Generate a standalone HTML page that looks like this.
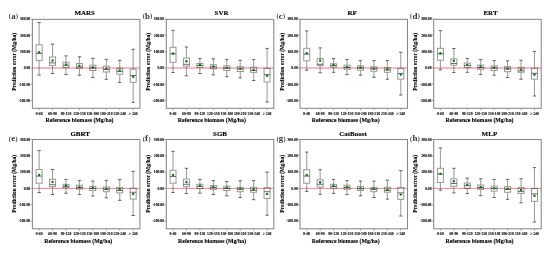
<!DOCTYPE html>
<html><head><meta charset="utf-8"><title>Prediction error box plots</title><style>
html,body{margin:0;padding:0;background:#fff;width:550px;height:256px;overflow:hidden}
svg{display:block}
text{font-family:"Liberation Serif","Times New Roman",serif}
.tk{font-size:3.75px;font-weight:bold;fill:#000;stroke:#000;stroke-width:0.08px}
.xl{font-size:5.85px;font-weight:bold;fill:#000;stroke:#000;stroke-width:0.1px}
.yl{font-size:5.45px;font-weight:bold;fill:#000;stroke:#000;stroke-width:0.1px}
.tt{font-size:7px;font-weight:bold;fill:#000;stroke:#000;stroke-width:0.12px}
.lt{font-size:8.9px;font-weight:bold;fill:#333}
.pp{font-size:6.1px}
.rl{mix-blend-mode:multiply}
</style></head><body>
<svg width="550" height="256" viewBox="0 0 550 256">
<rect width="550" height="256" fill="#fff"/>
<line x1="39.12" y1="22.6" x2="39.12" y2="44.8" stroke="#a0a0a0" stroke-width="1.1"/>
<line x1="39.12" y1="60.4" x2="39.12" y2="75" stroke="#a0a0a0" stroke-width="1.1"/>
<line x1="37.47" y1="22.6" x2="40.77" y2="22.6" stroke="#505050" stroke-width="0.9"/>
<line x1="37.47" y1="75" x2="40.77" y2="75" stroke="#505050" stroke-width="0.9"/>
<rect x="36.12" y="44.8" width="6" height="15.6" fill="#fff" stroke="#979797" stroke-width="1.0"/>
<line x1="36.12" y1="53.4" x2="42.12" y2="53.4" stroke="#4a4a4a" stroke-width="0.8"/>
<line x1="52.56" y1="44.1" x2="52.56" y2="57" stroke="#a0a0a0" stroke-width="1.1"/>
<line x1="52.56" y1="65.4" x2="52.56" y2="73.5" stroke="#a0a0a0" stroke-width="1.1"/>
<line x1="50.91" y1="44.1" x2="54.21" y2="44.1" stroke="#505050" stroke-width="0.9"/>
<line x1="50.91" y1="73.5" x2="54.21" y2="73.5" stroke="#505050" stroke-width="0.9"/>
<rect x="49.56" y="57" width="6" height="8.4" fill="#fff" stroke="#979797" stroke-width="1.0"/>
<line x1="49.56" y1="62.9" x2="55.56" y2="62.9" stroke="#4a4a4a" stroke-width="0.8"/>
<line x1="65.99" y1="55.9" x2="65.99" y2="62.3" stroke="#a0a0a0" stroke-width="1.1"/>
<line x1="65.99" y1="67.6" x2="65.99" y2="74.6" stroke="#a0a0a0" stroke-width="1.1"/>
<line x1="64.34" y1="55.9" x2="67.64" y2="55.9" stroke="#505050" stroke-width="0.9"/>
<line x1="64.34" y1="74.6" x2="67.64" y2="74.6" stroke="#505050" stroke-width="0.9"/>
<rect x="62.99" y="62.3" width="6" height="5.3" fill="#fff" stroke="#979797" stroke-width="1.0"/>
<line x1="62.99" y1="65.6" x2="68.99" y2="65.6" stroke="#4a4a4a" stroke-width="0.8"/>
<line x1="79.43" y1="56.8" x2="79.43" y2="63.5" stroke="#a0a0a0" stroke-width="1.1"/>
<line x1="79.43" y1="68.3" x2="79.43" y2="75.2" stroke="#a0a0a0" stroke-width="1.1"/>
<line x1="77.78" y1="56.8" x2="81.08" y2="56.8" stroke="#505050" stroke-width="0.9"/>
<line x1="77.78" y1="75.2" x2="81.08" y2="75.2" stroke="#505050" stroke-width="0.9"/>
<rect x="76.43" y="63.5" width="6" height="4.8" fill="#fff" stroke="#979797" stroke-width="1.0"/>
<line x1="76.43" y1="66.8" x2="82.43" y2="66.8" stroke="#4a4a4a" stroke-width="0.8"/>
<line x1="92.87" y1="58.4" x2="92.87" y2="65.2" stroke="#a0a0a0" stroke-width="1.1"/>
<line x1="92.87" y1="70.5" x2="92.87" y2="77.5" stroke="#a0a0a0" stroke-width="1.1"/>
<line x1="91.22" y1="58.4" x2="94.52" y2="58.4" stroke="#505050" stroke-width="0.9"/>
<line x1="91.22" y1="77.5" x2="94.52" y2="77.5" stroke="#505050" stroke-width="0.9"/>
<rect x="89.87" y="65.2" width="6" height="5.3" fill="#fff" stroke="#979797" stroke-width="1.0"/>
<line x1="89.87" y1="68" x2="95.87" y2="68" stroke="#4a4a4a" stroke-width="0.8"/>
<line x1="106.31" y1="59.4" x2="106.31" y2="66.2" stroke="#a0a0a0" stroke-width="1.1"/>
<line x1="106.31" y1="72" x2="106.31" y2="79.3" stroke="#a0a0a0" stroke-width="1.1"/>
<line x1="104.66" y1="59.4" x2="107.96" y2="59.4" stroke="#505050" stroke-width="0.9"/>
<line x1="104.66" y1="79.3" x2="107.96" y2="79.3" stroke="#505050" stroke-width="0.9"/>
<rect x="103.31" y="66.2" width="6" height="5.8" fill="#fff" stroke="#979797" stroke-width="1.0"/>
<line x1="103.31" y1="69.5" x2="109.31" y2="69.5" stroke="#4a4a4a" stroke-width="0.8"/>
<line x1="119.74" y1="60.3" x2="119.74" y2="68.4" stroke="#a0a0a0" stroke-width="1.1"/>
<line x1="119.74" y1="74.3" x2="119.74" y2="82.5" stroke="#a0a0a0" stroke-width="1.1"/>
<line x1="118.09" y1="60.3" x2="121.39" y2="60.3" stroke="#505050" stroke-width="0.9"/>
<line x1="118.09" y1="82.5" x2="121.39" y2="82.5" stroke="#505050" stroke-width="0.9"/>
<rect x="116.74" y="68.4" width="6" height="5.9" fill="#fff" stroke="#979797" stroke-width="1.0"/>
<line x1="116.74" y1="71.4" x2="122.74" y2="71.4" stroke="#4a4a4a" stroke-width="0.8"/>
<line x1="133.18" y1="49.3" x2="133.18" y2="69.2" stroke="#a0a0a0" stroke-width="1.1"/>
<line x1="133.18" y1="82.3" x2="133.18" y2="102.3" stroke="#a0a0a0" stroke-width="1.1"/>
<line x1="131.53" y1="49.3" x2="134.83" y2="49.3" stroke="#505050" stroke-width="0.9"/>
<line x1="131.53" y1="102.3" x2="134.83" y2="102.3" stroke="#505050" stroke-width="0.9"/>
<rect x="130.18" y="69.2" width="6" height="13.1" fill="#fff" stroke="#979797" stroke-width="1.0"/>
<line x1="130.18" y1="75.5" x2="136.18" y2="75.5" stroke="#4a4a4a" stroke-width="0.8"/>
<line x1="32.4" y1="67.95" x2="139.9" y2="67.95" stroke="#f2939f" stroke-width="1.35" stroke-dasharray="1.1 0.8" class="rl"/>
<line x1="32.4" y1="67.95" x2="139.9" y2="67.95" stroke="#f5aab4" stroke-width="1.35" stroke-dasharray="0.8 1.1" stroke-dashoffset="-1.1" class="rl"/>
<ellipse cx="39.12" cy="52.3" rx="1.2" ry="1.3" fill="#0a7a0e"/>
<ellipse cx="52.56" cy="60.5" rx="1.2" ry="1.3" fill="#0a7a0e"/>
<ellipse cx="65.99" cy="64.5" rx="1.2" ry="1.3" fill="#0a7a0e"/>
<ellipse cx="79.43" cy="65.8" rx="1.2" ry="1.3" fill="#0a7a0e"/>
<ellipse cx="92.87" cy="67.4" rx="1.2" ry="1.3" fill="#0a7a0e"/>
<ellipse cx="106.31" cy="68.8" rx="1.2" ry="1.3" fill="#0a7a0e"/>
<ellipse cx="119.74" cy="70.5" rx="1.2" ry="1.3" fill="#0a7a0e"/>
<ellipse cx="133.18" cy="76.7" rx="1.2" ry="1.3" fill="#0a7a0e"/>
<rect x="32.4" y="19.35" width="107.5" height="88.95" fill="none" stroke="#888888" stroke-width="1.05"/>
<line x1="30.6" y1="19.05" x2="32.4" y2="19.05" stroke="#888888" stroke-width="0.8"/>
<text x="30.2" y="20.4" text-anchor="end" class="tk">300.00</text>
<line x1="30.6" y1="35.35" x2="32.4" y2="35.35" stroke="#888888" stroke-width="0.8"/>
<text x="30.2" y="36.7" text-anchor="end" class="tk">200.00</text>
<line x1="30.6" y1="51.65" x2="32.4" y2="51.65" stroke="#888888" stroke-width="0.8"/>
<text x="30.2" y="53" text-anchor="end" class="tk">100.00</text>
<line x1="30.6" y1="67.95" x2="32.4" y2="67.95" stroke="#888888" stroke-width="0.8"/>
<text x="30.2" y="69.3" text-anchor="end" class="tk">0.00</text>
<line x1="30.6" y1="84.25" x2="32.4" y2="84.25" stroke="#888888" stroke-width="0.8"/>
<text x="30.2" y="85.6" text-anchor="end" class="tk">-100.00</text>
<line x1="30.6" y1="100.55" x2="32.4" y2="100.55" stroke="#888888" stroke-width="0.8"/>
<text x="30.2" y="101.9" text-anchor="end" class="tk">-200.00</text>
<line x1="39.12" y1="108.3" x2="39.12" y2="110.1" stroke="#888888" stroke-width="0.8"/>
<text x="39.12" y="114.8" text-anchor="middle" class="tk">0-60</text>
<line x1="52.56" y1="108.3" x2="52.56" y2="110.1" stroke="#888888" stroke-width="0.8"/>
<text x="52.56" y="114.8" text-anchor="middle" class="tk">60-90</text>
<line x1="65.99" y1="108.3" x2="65.99" y2="110.1" stroke="#888888" stroke-width="0.8"/>
<text x="65.99" y="114.8" text-anchor="middle" class="tk">90-120</text>
<line x1="79.43" y1="108.3" x2="79.43" y2="110.1" stroke="#888888" stroke-width="0.8"/>
<text x="79.43" y="114.8" text-anchor="middle" class="tk">120-150</text>
<line x1="92.87" y1="108.3" x2="92.87" y2="110.1" stroke="#888888" stroke-width="0.8"/>
<text x="92.87" y="114.8" text-anchor="middle" class="tk">150-180</text>
<line x1="106.31" y1="108.3" x2="106.31" y2="110.1" stroke="#888888" stroke-width="0.8"/>
<text x="106.31" y="114.8" text-anchor="middle" class="tk">180-210</text>
<line x1="119.74" y1="108.3" x2="119.74" y2="110.1" stroke="#888888" stroke-width="0.8"/>
<text x="119.74" y="114.8" text-anchor="middle" class="tk">210-240</text>
<line x1="133.18" y1="108.3" x2="133.18" y2="110.1" stroke="#888888" stroke-width="0.8"/>
<text x="133.18" y="114.8" text-anchor="middle" class="tk">&gt; 240</text>
<text x="79.5" y="122.2" text-anchor="middle" class="xl">Reference biomass (Mg/ha)</text>
<text transform="translate(16 61.85) rotate(-90)" text-anchor="middle" class="yl">Prediction error (Mg/ha)</text>
<text x="84.7" y="15.45" text-anchor="middle" class="tt">MARS</text>
<text x="8.8" y="18.55" class="lt"><tspan class="pp" dy="-0.6">(</tspan><tspan dy="0.6" dx="0.3">a</tspan><tspan class="pp" dy="-0.6" dx="0.4">)</tspan></text>
<line x1="173.02" y1="30.3" x2="173.02" y2="47.3" stroke="#a0a0a0" stroke-width="1.1"/>
<line x1="173.02" y1="62.4" x2="173.02" y2="72.5" stroke="#a0a0a0" stroke-width="1.1"/>
<line x1="171.37" y1="30.3" x2="174.67" y2="30.3" stroke="#505050" stroke-width="0.9"/>
<line x1="171.37" y1="72.5" x2="174.67" y2="72.5" stroke="#505050" stroke-width="0.9"/>
<rect x="170.02" y="47.3" width="6" height="15.1" fill="#fff" stroke="#979797" stroke-width="1.0"/>
<line x1="170.02" y1="53.8" x2="176.02" y2="53.8" stroke="#4a4a4a" stroke-width="0.8"/>
<line x1="186.46" y1="47" x2="186.46" y2="58.1" stroke="#a0a0a0" stroke-width="1.1"/>
<line x1="186.46" y1="66.1" x2="186.46" y2="75.8" stroke="#a0a0a0" stroke-width="1.1"/>
<line x1="184.81" y1="47" x2="188.11" y2="47" stroke="#505050" stroke-width="0.9"/>
<line x1="184.81" y1="75.8" x2="188.11" y2="75.8" stroke="#505050" stroke-width="0.9"/>
<rect x="183.46" y="58.1" width="6" height="8" fill="#fff" stroke="#979797" stroke-width="1.0"/>
<line x1="183.46" y1="64.3" x2="189.46" y2="64.3" stroke="#4a4a4a" stroke-width="0.8"/>
<line x1="199.89" y1="58.5" x2="199.89" y2="63.5" stroke="#a0a0a0" stroke-width="1.1"/>
<line x1="199.89" y1="67.3" x2="199.89" y2="73.5" stroke="#a0a0a0" stroke-width="1.1"/>
<line x1="198.24" y1="58.5" x2="201.54" y2="58.5" stroke="#505050" stroke-width="0.9"/>
<line x1="198.24" y1="73.5" x2="201.54" y2="73.5" stroke="#505050" stroke-width="0.9"/>
<rect x="196.89" y="63.5" width="6" height="3.8" fill="#fff" stroke="#979797" stroke-width="1.0"/>
<line x1="196.89" y1="65.5" x2="202.89" y2="65.5" stroke="#4a4a4a" stroke-width="0.8"/>
<line x1="213.33" y1="58.8" x2="213.33" y2="64.7" stroke="#a0a0a0" stroke-width="1.1"/>
<line x1="213.33" y1="68.8" x2="213.33" y2="74.9" stroke="#a0a0a0" stroke-width="1.1"/>
<line x1="211.68" y1="58.8" x2="214.98" y2="58.8" stroke="#505050" stroke-width="0.9"/>
<line x1="211.68" y1="74.9" x2="214.98" y2="74.9" stroke="#505050" stroke-width="0.9"/>
<rect x="210.33" y="64.7" width="6" height="4.1" fill="#fff" stroke="#979797" stroke-width="1.0"/>
<line x1="210.33" y1="66.9" x2="216.33" y2="66.9" stroke="#4a4a4a" stroke-width="0.8"/>
<line x1="226.77" y1="59.4" x2="226.77" y2="65.8" stroke="#a0a0a0" stroke-width="1.1"/>
<line x1="226.77" y1="70.5" x2="226.77" y2="76.7" stroke="#a0a0a0" stroke-width="1.1"/>
<line x1="225.12" y1="59.4" x2="228.42" y2="59.4" stroke="#505050" stroke-width="0.9"/>
<line x1="225.12" y1="76.7" x2="228.42" y2="76.7" stroke="#505050" stroke-width="0.9"/>
<rect x="223.77" y="65.8" width="6" height="4.7" fill="#fff" stroke="#979797" stroke-width="1.0"/>
<line x1="223.77" y1="68" x2="229.77" y2="68" stroke="#4a4a4a" stroke-width="0.8"/>
<line x1="240.21" y1="60.3" x2="240.21" y2="66.6" stroke="#a0a0a0" stroke-width="1.1"/>
<line x1="240.21" y1="71.5" x2="240.21" y2="77.9" stroke="#a0a0a0" stroke-width="1.1"/>
<line x1="238.56" y1="60.3" x2="241.86" y2="60.3" stroke="#505050" stroke-width="0.9"/>
<line x1="238.56" y1="77.9" x2="241.86" y2="77.9" stroke="#505050" stroke-width="0.9"/>
<rect x="237.21" y="66.6" width="6" height="4.9" fill="#fff" stroke="#979797" stroke-width="1.0"/>
<line x1="237.21" y1="69" x2="243.21" y2="69" stroke="#4a4a4a" stroke-width="0.8"/>
<line x1="253.64" y1="59.6" x2="253.64" y2="67.3" stroke="#a0a0a0" stroke-width="1.1"/>
<line x1="253.64" y1="72.4" x2="253.64" y2="80.5" stroke="#a0a0a0" stroke-width="1.1"/>
<line x1="251.99" y1="59.6" x2="255.29" y2="59.6" stroke="#505050" stroke-width="0.9"/>
<line x1="251.99" y1="80.5" x2="255.29" y2="80.5" stroke="#505050" stroke-width="0.9"/>
<rect x="250.64" y="67.3" width="6" height="5.1" fill="#fff" stroke="#979797" stroke-width="1.0"/>
<line x1="250.64" y1="70.5" x2="256.64" y2="70.5" stroke="#4a4a4a" stroke-width="0.8"/>
<line x1="267.08" y1="48.4" x2="267.08" y2="68.4" stroke="#a0a0a0" stroke-width="1.1"/>
<line x1="267.08" y1="82" x2="267.08" y2="102" stroke="#a0a0a0" stroke-width="1.1"/>
<line x1="265.43" y1="48.4" x2="268.73" y2="48.4" stroke="#505050" stroke-width="0.9"/>
<line x1="265.43" y1="102" x2="268.73" y2="102" stroke="#505050" stroke-width="0.9"/>
<rect x="264.08" y="68.4" width="6" height="13.6" fill="#fff" stroke="#979797" stroke-width="1.0"/>
<line x1="264.08" y1="74.7" x2="270.08" y2="74.7" stroke="#4a4a4a" stroke-width="0.8"/>
<line x1="166.3" y1="67.95" x2="273.8" y2="67.95" stroke="#f2939f" stroke-width="1.35" stroke-dasharray="1.1 0.8" class="rl"/>
<line x1="166.3" y1="67.95" x2="273.8" y2="67.95" stroke="#f5aab4" stroke-width="1.35" stroke-dasharray="0.8 1.1" stroke-dashoffset="-1.1" class="rl"/>
<ellipse cx="173.02" cy="53.6" rx="1.2" ry="1.3" fill="#0a7a0e"/>
<ellipse cx="186.46" cy="61.2" rx="1.2" ry="1.3" fill="#0a7a0e"/>
<ellipse cx="199.89" cy="64.9" rx="1.2" ry="1.3" fill="#0a7a0e"/>
<ellipse cx="213.33" cy="66.5" rx="1.2" ry="1.3" fill="#0a7a0e"/>
<ellipse cx="226.77" cy="67.8" rx="1.2" ry="1.3" fill="#0a7a0e"/>
<ellipse cx="240.21" cy="68.8" rx="1.2" ry="1.3" fill="#0a7a0e"/>
<ellipse cx="253.64" cy="70" rx="1.2" ry="1.3" fill="#0a7a0e"/>
<ellipse cx="267.08" cy="75.8" rx="1.2" ry="1.3" fill="#0a7a0e"/>
<rect x="166.3" y="19.35" width="107.5" height="88.95" fill="none" stroke="#888888" stroke-width="1.05"/>
<line x1="164.5" y1="19.05" x2="166.3" y2="19.05" stroke="#888888" stroke-width="0.8"/>
<text x="164.1" y="20.4" text-anchor="end" class="tk">300.00</text>
<line x1="164.5" y1="35.35" x2="166.3" y2="35.35" stroke="#888888" stroke-width="0.8"/>
<text x="164.1" y="36.7" text-anchor="end" class="tk">200.00</text>
<line x1="164.5" y1="51.65" x2="166.3" y2="51.65" stroke="#888888" stroke-width="0.8"/>
<text x="164.1" y="53" text-anchor="end" class="tk">100.00</text>
<line x1="164.5" y1="67.95" x2="166.3" y2="67.95" stroke="#888888" stroke-width="0.8"/>
<text x="164.1" y="69.3" text-anchor="end" class="tk">0.00</text>
<line x1="164.5" y1="84.25" x2="166.3" y2="84.25" stroke="#888888" stroke-width="0.8"/>
<text x="164.1" y="85.6" text-anchor="end" class="tk">-100.00</text>
<line x1="164.5" y1="100.55" x2="166.3" y2="100.55" stroke="#888888" stroke-width="0.8"/>
<text x="164.1" y="101.9" text-anchor="end" class="tk">-200.00</text>
<line x1="173.02" y1="108.3" x2="173.02" y2="110.1" stroke="#888888" stroke-width="0.8"/>
<text x="173.02" y="114.8" text-anchor="middle" class="tk">0-60</text>
<line x1="186.46" y1="108.3" x2="186.46" y2="110.1" stroke="#888888" stroke-width="0.8"/>
<text x="186.46" y="114.8" text-anchor="middle" class="tk">60-90</text>
<line x1="199.89" y1="108.3" x2="199.89" y2="110.1" stroke="#888888" stroke-width="0.8"/>
<text x="199.89" y="114.8" text-anchor="middle" class="tk">90-120</text>
<line x1="213.33" y1="108.3" x2="213.33" y2="110.1" stroke="#888888" stroke-width="0.8"/>
<text x="213.33" y="114.8" text-anchor="middle" class="tk">120-150</text>
<line x1="226.77" y1="108.3" x2="226.77" y2="110.1" stroke="#888888" stroke-width="0.8"/>
<text x="226.77" y="114.8" text-anchor="middle" class="tk">150-180</text>
<line x1="240.21" y1="108.3" x2="240.21" y2="110.1" stroke="#888888" stroke-width="0.8"/>
<text x="240.21" y="114.8" text-anchor="middle" class="tk">180-210</text>
<line x1="253.64" y1="108.3" x2="253.64" y2="110.1" stroke="#888888" stroke-width="0.8"/>
<text x="253.64" y="114.8" text-anchor="middle" class="tk">210-240</text>
<line x1="267.08" y1="108.3" x2="267.08" y2="110.1" stroke="#888888" stroke-width="0.8"/>
<text x="267.08" y="114.8" text-anchor="middle" class="tk">&gt; 240</text>
<text x="211.9" y="122.2" text-anchor="middle" class="xl">Reference biomass (Mg/ha)</text>
<text transform="translate(149.9 61.85) rotate(-90)" text-anchor="middle" class="yl">Prediction error (Mg/ha)</text>
<text x="221.5" y="15.45" text-anchor="middle" class="tt">SVR</text>
<text x="142.7" y="18.55" class="lt"><tspan class="pp" dy="-0.6">(</tspan><tspan dy="0.6" dx="0.3">b</tspan><tspan class="pp" dy="-0.6" dx="0.4">)</tspan></text>
<line x1="306.72" y1="30.9" x2="306.72" y2="48.3" stroke="#a0a0a0" stroke-width="1.1"/>
<line x1="306.72" y1="60.8" x2="306.72" y2="70.2" stroke="#a0a0a0" stroke-width="1.1"/>
<line x1="305.07" y1="30.9" x2="308.37" y2="30.9" stroke="#505050" stroke-width="0.9"/>
<line x1="305.07" y1="70.2" x2="308.37" y2="70.2" stroke="#505050" stroke-width="0.9"/>
<rect x="303.72" y="48.3" width="6" height="12.5" fill="#fff" stroke="#979797" stroke-width="1.0"/>
<line x1="303.72" y1="54.1" x2="309.72" y2="54.1" stroke="#4a4a4a" stroke-width="0.8"/>
<line x1="320.16" y1="47.9" x2="320.16" y2="58.5" stroke="#a0a0a0" stroke-width="1.1"/>
<line x1="320.16" y1="65.5" x2="320.16" y2="72.8" stroke="#a0a0a0" stroke-width="1.1"/>
<line x1="318.51" y1="47.9" x2="321.81" y2="47.9" stroke="#505050" stroke-width="0.9"/>
<line x1="318.51" y1="72.8" x2="321.81" y2="72.8" stroke="#505050" stroke-width="0.9"/>
<rect x="317.16" y="58.5" width="6" height="7" fill="#fff" stroke="#979797" stroke-width="1.0"/>
<line x1="317.16" y1="64.3" x2="323.16" y2="64.3" stroke="#4a4a4a" stroke-width="0.8"/>
<line x1="333.59" y1="58.6" x2="333.59" y2="63.8" stroke="#a0a0a0" stroke-width="1.1"/>
<line x1="333.59" y1="67" x2="333.59" y2="72.3" stroke="#a0a0a0" stroke-width="1.1"/>
<line x1="331.94" y1="58.6" x2="335.24" y2="58.6" stroke="#505050" stroke-width="0.9"/>
<line x1="331.94" y1="72.3" x2="335.24" y2="72.3" stroke="#505050" stroke-width="0.9"/>
<rect x="330.59" y="63.8" width="6" height="3.2" fill="#fff" stroke="#979797" stroke-width="1.0"/>
<line x1="330.59" y1="65.5" x2="336.59" y2="65.5" stroke="#4a4a4a" stroke-width="0.8"/>
<line x1="347.03" y1="59.6" x2="347.03" y2="65.2" stroke="#a0a0a0" stroke-width="1.1"/>
<line x1="347.03" y1="69.3" x2="347.03" y2="74.6" stroke="#a0a0a0" stroke-width="1.1"/>
<line x1="345.38" y1="59.6" x2="348.68" y2="59.6" stroke="#505050" stroke-width="0.9"/>
<line x1="345.38" y1="74.6" x2="348.68" y2="74.6" stroke="#505050" stroke-width="0.9"/>
<rect x="344.03" y="65.2" width="6" height="4.1" fill="#fff" stroke="#979797" stroke-width="1.0"/>
<line x1="344.03" y1="67.5" x2="350.03" y2="67.5" stroke="#4a4a4a" stroke-width="0.8"/>
<line x1="360.47" y1="60.6" x2="360.47" y2="65.8" stroke="#a0a0a0" stroke-width="1.1"/>
<line x1="360.47" y1="70.2" x2="360.47" y2="75.2" stroke="#a0a0a0" stroke-width="1.1"/>
<line x1="358.82" y1="60.6" x2="362.12" y2="60.6" stroke="#505050" stroke-width="0.9"/>
<line x1="358.82" y1="75.2" x2="362.12" y2="75.2" stroke="#505050" stroke-width="0.9"/>
<rect x="357.47" y="65.8" width="6" height="4.4" fill="#fff" stroke="#979797" stroke-width="1.0"/>
<line x1="357.47" y1="68" x2="363.47" y2="68" stroke="#4a4a4a" stroke-width="0.8"/>
<line x1="373.91" y1="60.6" x2="373.91" y2="66.8" stroke="#a0a0a0" stroke-width="1.1"/>
<line x1="373.91" y1="71.3" x2="373.91" y2="77.3" stroke="#a0a0a0" stroke-width="1.1"/>
<line x1="372.26" y1="60.6" x2="375.56" y2="60.6" stroke="#505050" stroke-width="0.9"/>
<line x1="372.26" y1="77.3" x2="375.56" y2="77.3" stroke="#505050" stroke-width="0.9"/>
<rect x="370.91" y="66.8" width="6" height="4.5" fill="#fff" stroke="#979797" stroke-width="1.0"/>
<line x1="370.91" y1="69" x2="376.91" y2="69" stroke="#4a4a4a" stroke-width="0.8"/>
<line x1="387.34" y1="60.6" x2="387.34" y2="67.6" stroke="#a0a0a0" stroke-width="1.1"/>
<line x1="387.34" y1="72.3" x2="387.34" y2="79.2" stroke="#a0a0a0" stroke-width="1.1"/>
<line x1="385.69" y1="60.6" x2="388.99" y2="60.6" stroke="#505050" stroke-width="0.9"/>
<line x1="385.69" y1="79.2" x2="388.99" y2="79.2" stroke="#505050" stroke-width="0.9"/>
<rect x="384.34" y="67.6" width="6" height="4.7" fill="#fff" stroke="#979797" stroke-width="1.0"/>
<line x1="384.34" y1="70" x2="390.34" y2="70" stroke="#4a4a4a" stroke-width="0.8"/>
<line x1="400.78" y1="52.3" x2="400.78" y2="68.4" stroke="#a0a0a0" stroke-width="1.1"/>
<line x1="400.78" y1="79.2" x2="400.78" y2="95" stroke="#a0a0a0" stroke-width="1.1"/>
<line x1="399.13" y1="52.3" x2="402.43" y2="52.3" stroke="#505050" stroke-width="0.9"/>
<line x1="399.13" y1="95" x2="402.43" y2="95" stroke="#505050" stroke-width="0.9"/>
<rect x="397.78" y="68.4" width="6" height="10.8" fill="#fff" stroke="#979797" stroke-width="1.0"/>
<line x1="397.78" y1="73.4" x2="403.78" y2="73.4" stroke="#4a4a4a" stroke-width="0.8"/>
<line x1="300" y1="67.95" x2="407.5" y2="67.95" stroke="#f2939f" stroke-width="1.35" stroke-dasharray="1.1 0.8" class="rl"/>
<line x1="300" y1="67.95" x2="407.5" y2="67.95" stroke="#f5aab4" stroke-width="1.35" stroke-dasharray="0.8 1.1" stroke-dashoffset="-1.1" class="rl"/>
<ellipse cx="306.72" cy="53.2" rx="1.2" ry="1.3" fill="#0a7a0e"/>
<ellipse cx="320.16" cy="60.6" rx="1.2" ry="1.3" fill="#0a7a0e"/>
<ellipse cx="333.59" cy="65" rx="1.2" ry="1.3" fill="#0a7a0e"/>
<ellipse cx="347.03" cy="67" rx="1.2" ry="1.3" fill="#0a7a0e"/>
<ellipse cx="360.47" cy="67.6" rx="1.2" ry="1.3" fill="#0a7a0e"/>
<ellipse cx="373.91" cy="68.5" rx="1.2" ry="1.3" fill="#0a7a0e"/>
<ellipse cx="387.34" cy="69.3" rx="1.2" ry="1.3" fill="#0a7a0e"/>
<ellipse cx="400.78" cy="74.6" rx="1.2" ry="1.3" fill="#0a7a0e"/>
<rect x="300" y="19.35" width="107.5" height="88.95" fill="none" stroke="#888888" stroke-width="1.05"/>
<line x1="298.2" y1="19.05" x2="300" y2="19.05" stroke="#888888" stroke-width="0.8"/>
<text x="297.8" y="20.4" text-anchor="end" class="tk">300.00</text>
<line x1="298.2" y1="35.35" x2="300" y2="35.35" stroke="#888888" stroke-width="0.8"/>
<text x="297.8" y="36.7" text-anchor="end" class="tk">200.00</text>
<line x1="298.2" y1="51.65" x2="300" y2="51.65" stroke="#888888" stroke-width="0.8"/>
<text x="297.8" y="53" text-anchor="end" class="tk">100.00</text>
<line x1="298.2" y1="67.95" x2="300" y2="67.95" stroke="#888888" stroke-width="0.8"/>
<text x="297.8" y="69.3" text-anchor="end" class="tk">0.00</text>
<line x1="298.2" y1="84.25" x2="300" y2="84.25" stroke="#888888" stroke-width="0.8"/>
<text x="297.8" y="85.6" text-anchor="end" class="tk">-100.00</text>
<line x1="298.2" y1="100.55" x2="300" y2="100.55" stroke="#888888" stroke-width="0.8"/>
<text x="297.8" y="101.9" text-anchor="end" class="tk">-200.00</text>
<line x1="306.72" y1="108.3" x2="306.72" y2="110.1" stroke="#888888" stroke-width="0.8"/>
<text x="306.72" y="114.8" text-anchor="middle" class="tk">0-60</text>
<line x1="320.16" y1="108.3" x2="320.16" y2="110.1" stroke="#888888" stroke-width="0.8"/>
<text x="320.16" y="114.8" text-anchor="middle" class="tk">60-90</text>
<line x1="333.59" y1="108.3" x2="333.59" y2="110.1" stroke="#888888" stroke-width="0.8"/>
<text x="333.59" y="114.8" text-anchor="middle" class="tk">90-120</text>
<line x1="347.03" y1="108.3" x2="347.03" y2="110.1" stroke="#888888" stroke-width="0.8"/>
<text x="347.03" y="114.8" text-anchor="middle" class="tk">120-150</text>
<line x1="360.47" y1="108.3" x2="360.47" y2="110.1" stroke="#888888" stroke-width="0.8"/>
<text x="360.47" y="114.8" text-anchor="middle" class="tk">150-180</text>
<line x1="373.91" y1="108.3" x2="373.91" y2="110.1" stroke="#888888" stroke-width="0.8"/>
<text x="373.91" y="114.8" text-anchor="middle" class="tk">180-210</text>
<line x1="387.34" y1="108.3" x2="387.34" y2="110.1" stroke="#888888" stroke-width="0.8"/>
<text x="387.34" y="114.8" text-anchor="middle" class="tk">210-240</text>
<line x1="400.78" y1="108.3" x2="400.78" y2="110.1" stroke="#888888" stroke-width="0.8"/>
<text x="400.78" y="114.8" text-anchor="middle" class="tk">&gt; 240</text>
<text x="345.7" y="122.2" text-anchor="middle" class="xl">Reference biomass (Mg/ha)</text>
<text transform="translate(283.6 61.85) rotate(-90)" text-anchor="middle" class="yl">Prediction error (Mg/ha)</text>
<text x="352.2" y="15.45" text-anchor="middle" class="tt">RF</text>
<text x="276.4" y="18.55" class="lt"><tspan class="pp" dy="-0.6">(</tspan><tspan dy="0.6" dx="0.3">c</tspan><tspan class="pp" dy="-0.6" dx="0.4">)</tspan></text>
<line x1="440.42" y1="30.6" x2="440.42" y2="48.3" stroke="#a0a0a0" stroke-width="1.1"/>
<line x1="440.42" y1="60.2" x2="440.42" y2="69.9" stroke="#a0a0a0" stroke-width="1.1"/>
<line x1="438.77" y1="30.6" x2="442.07" y2="30.6" stroke="#505050" stroke-width="0.9"/>
<line x1="438.77" y1="69.9" x2="442.07" y2="69.9" stroke="#505050" stroke-width="0.9"/>
<rect x="437.42" y="48.3" width="6" height="11.9" fill="#fff" stroke="#979797" stroke-width="1.0"/>
<line x1="437.42" y1="53.8" x2="443.42" y2="53.8" stroke="#4a4a4a" stroke-width="0.8"/>
<line x1="453.86" y1="48.5" x2="453.86" y2="58.8" stroke="#a0a0a0" stroke-width="1.1"/>
<line x1="453.86" y1="65.2" x2="453.86" y2="72.5" stroke="#a0a0a0" stroke-width="1.1"/>
<line x1="452.21" y1="48.5" x2="455.51" y2="48.5" stroke="#505050" stroke-width="0.9"/>
<line x1="452.21" y1="72.5" x2="455.51" y2="72.5" stroke="#505050" stroke-width="0.9"/>
<rect x="450.86" y="58.8" width="6" height="6.4" fill="#fff" stroke="#979797" stroke-width="1.0"/>
<line x1="450.86" y1="63.5" x2="456.86" y2="63.5" stroke="#4a4a4a" stroke-width="0.8"/>
<line x1="467.29" y1="58.6" x2="467.29" y2="63.1" stroke="#a0a0a0" stroke-width="1.1"/>
<line x1="467.29" y1="67.4" x2="467.29" y2="72.3" stroke="#a0a0a0" stroke-width="1.1"/>
<line x1="465.64" y1="58.6" x2="468.94" y2="58.6" stroke="#505050" stroke-width="0.9"/>
<line x1="465.64" y1="72.3" x2="468.94" y2="72.3" stroke="#505050" stroke-width="0.9"/>
<rect x="464.29" y="63.1" width="6" height="4.3" fill="#fff" stroke="#979797" stroke-width="1.0"/>
<line x1="464.29" y1="65.5" x2="470.29" y2="65.5" stroke="#4a4a4a" stroke-width="0.8"/>
<line x1="480.73" y1="59.6" x2="480.73" y2="65" stroke="#a0a0a0" stroke-width="1.1"/>
<line x1="480.73" y1="69.3" x2="480.73" y2="74.6" stroke="#a0a0a0" stroke-width="1.1"/>
<line x1="479.08" y1="59.6" x2="482.38" y2="59.6" stroke="#505050" stroke-width="0.9"/>
<line x1="479.08" y1="74.6" x2="482.38" y2="74.6" stroke="#505050" stroke-width="0.9"/>
<rect x="477.73" y="65" width="6" height="4.3" fill="#fff" stroke="#979797" stroke-width="1.0"/>
<line x1="477.73" y1="67.5" x2="483.73" y2="67.5" stroke="#4a4a4a" stroke-width="0.8"/>
<line x1="494.17" y1="60.6" x2="494.17" y2="65.8" stroke="#a0a0a0" stroke-width="1.1"/>
<line x1="494.17" y1="70.5" x2="494.17" y2="75.2" stroke="#a0a0a0" stroke-width="1.1"/>
<line x1="492.52" y1="60.6" x2="495.82" y2="60.6" stroke="#505050" stroke-width="0.9"/>
<line x1="492.52" y1="75.2" x2="495.82" y2="75.2" stroke="#505050" stroke-width="0.9"/>
<rect x="491.17" y="65.8" width="6" height="4.7" fill="#fff" stroke="#979797" stroke-width="1.0"/>
<line x1="491.17" y1="68" x2="497.17" y2="68" stroke="#4a4a4a" stroke-width="0.8"/>
<line x1="507.61" y1="60.8" x2="507.61" y2="66.6" stroke="#a0a0a0" stroke-width="1.1"/>
<line x1="507.61" y1="71.7" x2="507.61" y2="77.5" stroke="#a0a0a0" stroke-width="1.1"/>
<line x1="505.96" y1="60.8" x2="509.26" y2="60.8" stroke="#505050" stroke-width="0.9"/>
<line x1="505.96" y1="77.5" x2="509.26" y2="77.5" stroke="#505050" stroke-width="0.9"/>
<rect x="504.61" y="66.6" width="6" height="5.1" fill="#fff" stroke="#979797" stroke-width="1.0"/>
<line x1="504.61" y1="69" x2="510.61" y2="69" stroke="#4a4a4a" stroke-width="0.8"/>
<line x1="521.04" y1="60.3" x2="521.04" y2="67.3" stroke="#a0a0a0" stroke-width="1.1"/>
<line x1="521.04" y1="72.3" x2="521.04" y2="79.2" stroke="#a0a0a0" stroke-width="1.1"/>
<line x1="519.39" y1="60.3" x2="522.69" y2="60.3" stroke="#505050" stroke-width="0.9"/>
<line x1="519.39" y1="79.2" x2="522.69" y2="79.2" stroke="#505050" stroke-width="0.9"/>
<rect x="518.04" y="67.3" width="6" height="5" fill="#fff" stroke="#979797" stroke-width="1.0"/>
<line x1="518.04" y1="70.9" x2="524.04" y2="70.9" stroke="#4a4a4a" stroke-width="0.8"/>
<line x1="534.48" y1="51.4" x2="534.48" y2="68.2" stroke="#a0a0a0" stroke-width="1.1"/>
<line x1="534.48" y1="79.1" x2="534.48" y2="96" stroke="#a0a0a0" stroke-width="1.1"/>
<line x1="532.83" y1="51.4" x2="536.13" y2="51.4" stroke="#505050" stroke-width="0.9"/>
<line x1="532.83" y1="96" x2="536.13" y2="96" stroke="#505050" stroke-width="0.9"/>
<rect x="531.48" y="68.2" width="6" height="10.9" fill="#fff" stroke="#979797" stroke-width="1.0"/>
<line x1="531.48" y1="73.3" x2="537.48" y2="73.3" stroke="#4a4a4a" stroke-width="0.8"/>
<line x1="433.7" y1="67.95" x2="541.2" y2="67.95" stroke="#f2939f" stroke-width="1.35" stroke-dasharray="1.1 0.8" class="rl"/>
<line x1="433.7" y1="67.95" x2="541.2" y2="67.95" stroke="#f5aab4" stroke-width="1.35" stroke-dasharray="0.8 1.1" stroke-dashoffset="-1.1" class="rl"/>
<ellipse cx="440.42" cy="53.4" rx="1.2" ry="1.3" fill="#0a7a0e"/>
<ellipse cx="453.86" cy="60.8" rx="1.2" ry="1.3" fill="#0a7a0e"/>
<ellipse cx="467.29" cy="65" rx="1.2" ry="1.3" fill="#0a7a0e"/>
<ellipse cx="480.73" cy="66.6" rx="1.2" ry="1.3" fill="#0a7a0e"/>
<ellipse cx="494.17" cy="67.6" rx="1.2" ry="1.3" fill="#0a7a0e"/>
<ellipse cx="507.61" cy="68.5" rx="1.2" ry="1.3" fill="#0a7a0e"/>
<ellipse cx="521.04" cy="69.6" rx="1.2" ry="1.3" fill="#0a7a0e"/>
<ellipse cx="534.48" cy="74.6" rx="1.2" ry="1.3" fill="#0a7a0e"/>
<rect x="433.7" y="19.35" width="107.5" height="88.95" fill="none" stroke="#888888" stroke-width="1.05"/>
<line x1="431.9" y1="19.05" x2="433.7" y2="19.05" stroke="#888888" stroke-width="0.8"/>
<text x="431.5" y="20.4" text-anchor="end" class="tk">300.00</text>
<line x1="431.9" y1="35.35" x2="433.7" y2="35.35" stroke="#888888" stroke-width="0.8"/>
<text x="431.5" y="36.7" text-anchor="end" class="tk">200.00</text>
<line x1="431.9" y1="51.65" x2="433.7" y2="51.65" stroke="#888888" stroke-width="0.8"/>
<text x="431.5" y="53" text-anchor="end" class="tk">100.00</text>
<line x1="431.9" y1="67.95" x2="433.7" y2="67.95" stroke="#888888" stroke-width="0.8"/>
<text x="431.5" y="69.3" text-anchor="end" class="tk">0.00</text>
<line x1="431.9" y1="84.25" x2="433.7" y2="84.25" stroke="#888888" stroke-width="0.8"/>
<text x="431.5" y="85.6" text-anchor="end" class="tk">-100.00</text>
<line x1="431.9" y1="100.55" x2="433.7" y2="100.55" stroke="#888888" stroke-width="0.8"/>
<text x="431.5" y="101.9" text-anchor="end" class="tk">-200.00</text>
<line x1="440.42" y1="108.3" x2="440.42" y2="110.1" stroke="#888888" stroke-width="0.8"/>
<text x="440.42" y="114.8" text-anchor="middle" class="tk">0-60</text>
<line x1="453.86" y1="108.3" x2="453.86" y2="110.1" stroke="#888888" stroke-width="0.8"/>
<text x="453.86" y="114.8" text-anchor="middle" class="tk">60-90</text>
<line x1="467.29" y1="108.3" x2="467.29" y2="110.1" stroke="#888888" stroke-width="0.8"/>
<text x="467.29" y="114.8" text-anchor="middle" class="tk">90-120</text>
<line x1="480.73" y1="108.3" x2="480.73" y2="110.1" stroke="#888888" stroke-width="0.8"/>
<text x="480.73" y="114.8" text-anchor="middle" class="tk">120-150</text>
<line x1="494.17" y1="108.3" x2="494.17" y2="110.1" stroke="#888888" stroke-width="0.8"/>
<text x="494.17" y="114.8" text-anchor="middle" class="tk">150-180</text>
<line x1="507.61" y1="108.3" x2="507.61" y2="110.1" stroke="#888888" stroke-width="0.8"/>
<text x="507.61" y="114.8" text-anchor="middle" class="tk">180-210</text>
<line x1="521.04" y1="108.3" x2="521.04" y2="110.1" stroke="#888888" stroke-width="0.8"/>
<text x="521.04" y="114.8" text-anchor="middle" class="tk">210-240</text>
<line x1="534.48" y1="108.3" x2="534.48" y2="110.1" stroke="#888888" stroke-width="0.8"/>
<text x="534.48" y="114.8" text-anchor="middle" class="tk">&gt; 240</text>
<text x="479.5" y="122.2" text-anchor="middle" class="xl">Reference biomass (Mg/ha)</text>
<text transform="translate(417.3 61.85) rotate(-90)" text-anchor="middle" class="yl">Prediction error (Mg/ha)</text>
<text x="490.5" y="15.45" text-anchor="middle" class="tt">ERT</text>
<text x="410.1" y="18.55" class="lt"><tspan class="pp" dy="-0.6">(</tspan><tspan dy="0.6" dx="0.3">d</tspan><tspan class="pp" dy="-0.6" dx="0.4">)</tspan></text>
<line x1="39.12" y1="150.6" x2="39.12" y2="169.5" stroke="#a0a0a0" stroke-width="1.1"/>
<line x1="39.12" y1="183.2" x2="39.12" y2="192.5" stroke="#a0a0a0" stroke-width="1.1"/>
<line x1="37.47" y1="150.6" x2="40.77" y2="150.6" stroke="#505050" stroke-width="0.9"/>
<line x1="37.47" y1="192.5" x2="40.77" y2="192.5" stroke="#505050" stroke-width="0.9"/>
<rect x="36.12" y="169.5" width="6" height="13.7" fill="#fff" stroke="#979797" stroke-width="1.0"/>
<line x1="36.12" y1="176.1" x2="42.12" y2="176.1" stroke="#4a4a4a" stroke-width="0.8"/>
<line x1="52.56" y1="169.5" x2="52.56" y2="179.3" stroke="#a0a0a0" stroke-width="1.1"/>
<line x1="52.56" y1="186.7" x2="52.56" y2="194.5" stroke="#a0a0a0" stroke-width="1.1"/>
<line x1="50.91" y1="169.5" x2="54.21" y2="169.5" stroke="#505050" stroke-width="0.9"/>
<line x1="50.91" y1="194.5" x2="54.21" y2="194.5" stroke="#505050" stroke-width="0.9"/>
<rect x="49.56" y="179.3" width="6" height="7.4" fill="#fff" stroke="#979797" stroke-width="1.0"/>
<line x1="49.56" y1="184.7" x2="55.56" y2="184.7" stroke="#4a4a4a" stroke-width="0.8"/>
<line x1="65.99" y1="179.4" x2="65.99" y2="184.3" stroke="#a0a0a0" stroke-width="1.1"/>
<line x1="65.99" y1="187.8" x2="65.99" y2="193.2" stroke="#a0a0a0" stroke-width="1.1"/>
<line x1="64.34" y1="179.4" x2="67.64" y2="179.4" stroke="#505050" stroke-width="0.9"/>
<line x1="64.34" y1="193.2" x2="67.64" y2="193.2" stroke="#505050" stroke-width="0.9"/>
<rect x="62.99" y="184.3" width="6" height="3.5" fill="#fff" stroke="#979797" stroke-width="1.0"/>
<line x1="62.99" y1="186.5" x2="68.99" y2="186.5" stroke="#4a4a4a" stroke-width="0.8"/>
<line x1="79.43" y1="180.6" x2="79.43" y2="185.2" stroke="#a0a0a0" stroke-width="1.1"/>
<line x1="79.43" y1="189.1" x2="79.43" y2="194.6" stroke="#a0a0a0" stroke-width="1.1"/>
<line x1="77.78" y1="180.6" x2="81.08" y2="180.6" stroke="#505050" stroke-width="0.9"/>
<line x1="77.78" y1="194.6" x2="81.08" y2="194.6" stroke="#505050" stroke-width="0.9"/>
<rect x="76.43" y="185.2" width="6" height="3.9" fill="#fff" stroke="#979797" stroke-width="1.0"/>
<line x1="76.43" y1="187.5" x2="82.43" y2="187.5" stroke="#4a4a4a" stroke-width="0.8"/>
<line x1="92.87" y1="181.1" x2="92.87" y2="186.4" stroke="#a0a0a0" stroke-width="1.1"/>
<line x1="92.87" y1="190.5" x2="92.87" y2="196" stroke="#a0a0a0" stroke-width="1.1"/>
<line x1="91.22" y1="181.1" x2="94.52" y2="181.1" stroke="#505050" stroke-width="0.9"/>
<line x1="91.22" y1="196" x2="94.52" y2="196" stroke="#505050" stroke-width="0.9"/>
<rect x="89.87" y="186.4" width="6" height="4.1" fill="#fff" stroke="#979797" stroke-width="1.0"/>
<line x1="89.87" y1="188.5" x2="95.87" y2="188.5" stroke="#4a4a4a" stroke-width="0.8"/>
<line x1="106.31" y1="180.3" x2="106.31" y2="187" stroke="#a0a0a0" stroke-width="1.1"/>
<line x1="106.31" y1="191.7" x2="106.31" y2="197.8" stroke="#a0a0a0" stroke-width="1.1"/>
<line x1="104.66" y1="180.3" x2="107.96" y2="180.3" stroke="#505050" stroke-width="0.9"/>
<line x1="104.66" y1="197.8" x2="107.96" y2="197.8" stroke="#505050" stroke-width="0.9"/>
<rect x="103.31" y="187" width="6" height="4.7" fill="#fff" stroke="#979797" stroke-width="1.0"/>
<line x1="103.31" y1="189.5" x2="109.31" y2="189.5" stroke="#4a4a4a" stroke-width="0.8"/>
<line x1="119.74" y1="179.6" x2="119.74" y2="187.4" stroke="#a0a0a0" stroke-width="1.1"/>
<line x1="119.74" y1="192.9" x2="119.74" y2="200.3" stroke="#a0a0a0" stroke-width="1.1"/>
<line x1="118.09" y1="179.6" x2="121.39" y2="179.6" stroke="#505050" stroke-width="0.9"/>
<line x1="118.09" y1="200.3" x2="121.39" y2="200.3" stroke="#505050" stroke-width="0.9"/>
<rect x="116.74" y="187.4" width="6" height="5.5" fill="#fff" stroke="#979797" stroke-width="1.0"/>
<line x1="116.74" y1="190.5" x2="122.74" y2="190.5" stroke="#4a4a4a" stroke-width="0.8"/>
<line x1="133.18" y1="171.4" x2="133.18" y2="188.2" stroke="#a0a0a0" stroke-width="1.1"/>
<line x1="133.18" y1="199.1" x2="133.18" y2="215.5" stroke="#a0a0a0" stroke-width="1.1"/>
<line x1="131.53" y1="171.4" x2="134.83" y2="171.4" stroke="#505050" stroke-width="0.9"/>
<line x1="131.53" y1="215.5" x2="134.83" y2="215.5" stroke="#505050" stroke-width="0.9"/>
<rect x="130.18" y="188.2" width="6" height="10.9" fill="#fff" stroke="#979797" stroke-width="1.0"/>
<line x1="130.18" y1="192.3" x2="136.18" y2="192.3" stroke="#4a4a4a" stroke-width="0.8"/>
<line x1="32.4" y1="188.4" x2="139.9" y2="188.4" stroke="#ee5050" stroke-width="0.85" stroke-dasharray="1.1 0.8" class="rl"/>
<line x1="32.4" y1="188.4" x2="139.9" y2="188.4" stroke="#f48a8a" stroke-width="0.85" stroke-dasharray="0.8 1.1" stroke-dashoffset="-1.1" class="rl"/>
<ellipse cx="39.12" cy="175" rx="1.2" ry="1.3" fill="#0a7a0e"/>
<ellipse cx="52.56" cy="182" rx="1.2" ry="1.3" fill="#0a7a0e"/>
<ellipse cx="65.99" cy="185.6" rx="1.2" ry="1.3" fill="#0a7a0e"/>
<ellipse cx="79.43" cy="187" rx="1.2" ry="1.3" fill="#0a7a0e"/>
<ellipse cx="92.87" cy="187.9" rx="1.2" ry="1.3" fill="#0a7a0e"/>
<ellipse cx="106.31" cy="188.8" rx="1.2" ry="1.3" fill="#0a7a0e"/>
<ellipse cx="119.74" cy="189.3" rx="1.2" ry="1.3" fill="#0a7a0e"/>
<ellipse cx="133.18" cy="194" rx="1.2" ry="1.3" fill="#0a7a0e"/>
<rect x="32.4" y="139.5" width="107.5" height="89.3" fill="none" stroke="#888888" stroke-width="1.05"/>
<line x1="30.6" y1="139.5" x2="32.4" y2="139.5" stroke="#888888" stroke-width="0.8"/>
<text x="30.2" y="140.85" text-anchor="end" class="tk">300.00</text>
<line x1="30.6" y1="155.8" x2="32.4" y2="155.8" stroke="#888888" stroke-width="0.8"/>
<text x="30.2" y="157.15" text-anchor="end" class="tk">200.00</text>
<line x1="30.6" y1="172.1" x2="32.4" y2="172.1" stroke="#888888" stroke-width="0.8"/>
<text x="30.2" y="173.45" text-anchor="end" class="tk">100.00</text>
<line x1="30.6" y1="188.4" x2="32.4" y2="188.4" stroke="#888888" stroke-width="0.8"/>
<text x="30.2" y="189.75" text-anchor="end" class="tk">0.00</text>
<line x1="30.6" y1="204.7" x2="32.4" y2="204.7" stroke="#888888" stroke-width="0.8"/>
<text x="30.2" y="206.05" text-anchor="end" class="tk">-100.00</text>
<line x1="30.6" y1="221" x2="32.4" y2="221" stroke="#888888" stroke-width="0.8"/>
<text x="30.2" y="222.35" text-anchor="end" class="tk">-200.00</text>
<line x1="39.12" y1="228.8" x2="39.12" y2="230.6" stroke="#888888" stroke-width="0.8"/>
<text x="39.12" y="235.3" text-anchor="middle" class="tk">0-60</text>
<line x1="52.56" y1="228.8" x2="52.56" y2="230.6" stroke="#888888" stroke-width="0.8"/>
<text x="52.56" y="235.3" text-anchor="middle" class="tk">60-90</text>
<line x1="65.99" y1="228.8" x2="65.99" y2="230.6" stroke="#888888" stroke-width="0.8"/>
<text x="65.99" y="235.3" text-anchor="middle" class="tk">90-120</text>
<line x1="79.43" y1="228.8" x2="79.43" y2="230.6" stroke="#888888" stroke-width="0.8"/>
<text x="79.43" y="235.3" text-anchor="middle" class="tk">120-150</text>
<line x1="92.87" y1="228.8" x2="92.87" y2="230.6" stroke="#888888" stroke-width="0.8"/>
<text x="92.87" y="235.3" text-anchor="middle" class="tk">150-180</text>
<line x1="106.31" y1="228.8" x2="106.31" y2="230.6" stroke="#888888" stroke-width="0.8"/>
<text x="106.31" y="235.3" text-anchor="middle" class="tk">180-210</text>
<line x1="119.74" y1="228.8" x2="119.74" y2="230.6" stroke="#888888" stroke-width="0.8"/>
<text x="119.74" y="235.3" text-anchor="middle" class="tk">210-240</text>
<line x1="133.18" y1="228.8" x2="133.18" y2="230.6" stroke="#888888" stroke-width="0.8"/>
<text x="133.18" y="235.3" text-anchor="middle" class="tk">&gt; 240</text>
<text x="78.3" y="243.3" text-anchor="middle" class="xl">Reference biomass (Mg/ha)</text>
<text transform="translate(16 183.8) rotate(-90)" text-anchor="middle" class="yl">Prediction error (Mg/ha)</text>
<text x="80.2" y="135.6" text-anchor="middle" class="tt">GBRT</text>
<text x="8.8" y="141.2" class="lt"><tspan class="pp" dy="-0.6">(</tspan><tspan dy="0.6" dx="0.3">e</tspan><tspan class="pp" dy="-0.6" dx="0.4">)</tspan></text>
<line x1="173.02" y1="151.4" x2="173.02" y2="170.3" stroke="#a0a0a0" stroke-width="1.1"/>
<line x1="173.02" y1="183.2" x2="173.02" y2="192.5" stroke="#a0a0a0" stroke-width="1.1"/>
<line x1="171.37" y1="151.4" x2="174.67" y2="151.4" stroke="#505050" stroke-width="0.9"/>
<line x1="171.37" y1="192.5" x2="174.67" y2="192.5" stroke="#505050" stroke-width="0.9"/>
<rect x="170.02" y="170.3" width="6" height="12.9" fill="#fff" stroke="#979797" stroke-width="1.0"/>
<line x1="170.02" y1="176.5" x2="176.02" y2="176.5" stroke="#4a4a4a" stroke-width="0.8"/>
<line x1="186.46" y1="168.3" x2="186.46" y2="179.1" stroke="#a0a0a0" stroke-width="1.1"/>
<line x1="186.46" y1="186.7" x2="186.46" y2="193.5" stroke="#a0a0a0" stroke-width="1.1"/>
<line x1="184.81" y1="168.3" x2="188.11" y2="168.3" stroke="#505050" stroke-width="0.9"/>
<line x1="184.81" y1="193.5" x2="188.11" y2="193.5" stroke="#505050" stroke-width="0.9"/>
<rect x="183.46" y="179.1" width="6" height="7.6" fill="#fff" stroke="#979797" stroke-width="1.0"/>
<line x1="183.46" y1="184.3" x2="189.46" y2="184.3" stroke="#4a4a4a" stroke-width="0.8"/>
<line x1="199.89" y1="179.4" x2="199.89" y2="184.3" stroke="#a0a0a0" stroke-width="1.1"/>
<line x1="199.89" y1="188.5" x2="199.89" y2="193.2" stroke="#a0a0a0" stroke-width="1.1"/>
<line x1="198.24" y1="179.4" x2="201.54" y2="179.4" stroke="#505050" stroke-width="0.9"/>
<line x1="198.24" y1="193.2" x2="201.54" y2="193.2" stroke="#505050" stroke-width="0.9"/>
<rect x="196.89" y="184.3" width="6" height="4.2" fill="#fff" stroke="#979797" stroke-width="1.0"/>
<line x1="196.89" y1="186.5" x2="202.89" y2="186.5" stroke="#4a4a4a" stroke-width="0.8"/>
<line x1="213.33" y1="180.6" x2="213.33" y2="185.5" stroke="#a0a0a0" stroke-width="1.1"/>
<line x1="213.33" y1="189.3" x2="213.33" y2="194.6" stroke="#a0a0a0" stroke-width="1.1"/>
<line x1="211.68" y1="180.6" x2="214.98" y2="180.6" stroke="#505050" stroke-width="0.9"/>
<line x1="211.68" y1="194.6" x2="214.98" y2="194.6" stroke="#505050" stroke-width="0.9"/>
<rect x="210.33" y="185.5" width="6" height="3.8" fill="#fff" stroke="#979797" stroke-width="1.0"/>
<line x1="210.33" y1="187.5" x2="216.33" y2="187.5" stroke="#4a4a4a" stroke-width="0.8"/>
<line x1="226.77" y1="181.5" x2="226.77" y2="186.2" stroke="#a0a0a0" stroke-width="1.1"/>
<line x1="226.77" y1="190.5" x2="226.77" y2="195.8" stroke="#a0a0a0" stroke-width="1.1"/>
<line x1="225.12" y1="181.5" x2="228.42" y2="181.5" stroke="#505050" stroke-width="0.9"/>
<line x1="225.12" y1="195.8" x2="228.42" y2="195.8" stroke="#505050" stroke-width="0.9"/>
<rect x="223.77" y="186.2" width="6" height="4.3" fill="#fff" stroke="#979797" stroke-width="1.0"/>
<line x1="223.77" y1="188.5" x2="229.77" y2="188.5" stroke="#4a4a4a" stroke-width="0.8"/>
<line x1="240.21" y1="180.8" x2="240.21" y2="187.4" stroke="#a0a0a0" stroke-width="1.1"/>
<line x1="240.21" y1="191.7" x2="240.21" y2="197.5" stroke="#a0a0a0" stroke-width="1.1"/>
<line x1="238.56" y1="180.8" x2="241.86" y2="180.8" stroke="#505050" stroke-width="0.9"/>
<line x1="238.56" y1="197.5" x2="241.86" y2="197.5" stroke="#505050" stroke-width="0.9"/>
<rect x="237.21" y="187.4" width="6" height="4.3" fill="#fff" stroke="#979797" stroke-width="1.0"/>
<line x1="237.21" y1="189.5" x2="243.21" y2="189.5" stroke="#4a4a4a" stroke-width="0.8"/>
<line x1="253.64" y1="180.6" x2="253.64" y2="187.4" stroke="#a0a0a0" stroke-width="1.1"/>
<line x1="253.64" y1="192.3" x2="253.64" y2="199.7" stroke="#a0a0a0" stroke-width="1.1"/>
<line x1="251.99" y1="180.6" x2="255.29" y2="180.6" stroke="#505050" stroke-width="0.9"/>
<line x1="251.99" y1="199.7" x2="255.29" y2="199.7" stroke="#505050" stroke-width="0.9"/>
<rect x="250.64" y="187.4" width="6" height="4.9" fill="#fff" stroke="#979797" stroke-width="1.0"/>
<line x1="250.64" y1="190.5" x2="256.64" y2="190.5" stroke="#4a4a4a" stroke-width="0.8"/>
<line x1="267.08" y1="172.1" x2="267.08" y2="187.6" stroke="#a0a0a0" stroke-width="1.1"/>
<line x1="267.08" y1="198.5" x2="267.08" y2="215.2" stroke="#a0a0a0" stroke-width="1.1"/>
<line x1="265.43" y1="172.1" x2="268.73" y2="172.1" stroke="#505050" stroke-width="0.9"/>
<line x1="265.43" y1="215.2" x2="268.73" y2="215.2" stroke="#505050" stroke-width="0.9"/>
<rect x="264.08" y="187.6" width="6" height="10.9" fill="#fff" stroke="#979797" stroke-width="1.0"/>
<line x1="264.08" y1="191.7" x2="270.08" y2="191.7" stroke="#4a4a4a" stroke-width="0.8"/>
<line x1="166.3" y1="188.4" x2="273.8" y2="188.4" stroke="#ee5050" stroke-width="0.85" stroke-dasharray="1.1 0.8" class="rl"/>
<line x1="166.3" y1="188.4" x2="273.8" y2="188.4" stroke="#f48a8a" stroke-width="0.85" stroke-dasharray="0.8 1.1" stroke-dashoffset="-1.1" class="rl"/>
<ellipse cx="173.02" cy="175" rx="1.2" ry="1.3" fill="#0a7a0e"/>
<ellipse cx="186.46" cy="182" rx="1.2" ry="1.3" fill="#0a7a0e"/>
<ellipse cx="199.89" cy="185.8" rx="1.2" ry="1.3" fill="#0a7a0e"/>
<ellipse cx="213.33" cy="187" rx="1.2" ry="1.3" fill="#0a7a0e"/>
<ellipse cx="226.77" cy="187.8" rx="1.2" ry="1.3" fill="#0a7a0e"/>
<ellipse cx="240.21" cy="188.8" rx="1.2" ry="1.3" fill="#0a7a0e"/>
<ellipse cx="253.64" cy="189.3" rx="1.2" ry="1.3" fill="#0a7a0e"/>
<ellipse cx="267.08" cy="194" rx="1.2" ry="1.3" fill="#0a7a0e"/>
<rect x="166.3" y="139.5" width="107.5" height="89.3" fill="none" stroke="#888888" stroke-width="1.05"/>
<line x1="164.5" y1="139.5" x2="166.3" y2="139.5" stroke="#888888" stroke-width="0.8"/>
<text x="164.1" y="140.85" text-anchor="end" class="tk">300.00</text>
<line x1="164.5" y1="155.8" x2="166.3" y2="155.8" stroke="#888888" stroke-width="0.8"/>
<text x="164.1" y="157.15" text-anchor="end" class="tk">200.00</text>
<line x1="164.5" y1="172.1" x2="166.3" y2="172.1" stroke="#888888" stroke-width="0.8"/>
<text x="164.1" y="173.45" text-anchor="end" class="tk">100.00</text>
<line x1="164.5" y1="188.4" x2="166.3" y2="188.4" stroke="#888888" stroke-width="0.8"/>
<text x="164.1" y="189.75" text-anchor="end" class="tk">0.00</text>
<line x1="164.5" y1="204.7" x2="166.3" y2="204.7" stroke="#888888" stroke-width="0.8"/>
<text x="164.1" y="206.05" text-anchor="end" class="tk">-100.00</text>
<line x1="164.5" y1="221" x2="166.3" y2="221" stroke="#888888" stroke-width="0.8"/>
<text x="164.1" y="222.35" text-anchor="end" class="tk">-200.00</text>
<line x1="173.02" y1="228.8" x2="173.02" y2="230.6" stroke="#888888" stroke-width="0.8"/>
<text x="173.02" y="235.3" text-anchor="middle" class="tk">0-60</text>
<line x1="186.46" y1="228.8" x2="186.46" y2="230.6" stroke="#888888" stroke-width="0.8"/>
<text x="186.46" y="235.3" text-anchor="middle" class="tk">60-90</text>
<line x1="199.89" y1="228.8" x2="199.89" y2="230.6" stroke="#888888" stroke-width="0.8"/>
<text x="199.89" y="235.3" text-anchor="middle" class="tk">90-120</text>
<line x1="213.33" y1="228.8" x2="213.33" y2="230.6" stroke="#888888" stroke-width="0.8"/>
<text x="213.33" y="235.3" text-anchor="middle" class="tk">120-150</text>
<line x1="226.77" y1="228.8" x2="226.77" y2="230.6" stroke="#888888" stroke-width="0.8"/>
<text x="226.77" y="235.3" text-anchor="middle" class="tk">150-180</text>
<line x1="240.21" y1="228.8" x2="240.21" y2="230.6" stroke="#888888" stroke-width="0.8"/>
<text x="240.21" y="235.3" text-anchor="middle" class="tk">180-210</text>
<line x1="253.64" y1="228.8" x2="253.64" y2="230.6" stroke="#888888" stroke-width="0.8"/>
<text x="253.64" y="235.3" text-anchor="middle" class="tk">210-240</text>
<line x1="267.08" y1="228.8" x2="267.08" y2="230.6" stroke="#888888" stroke-width="0.8"/>
<text x="267.08" y="235.3" text-anchor="middle" class="tk">&gt; 240</text>
<text x="212.1" y="243.3" text-anchor="middle" class="xl">Reference biomass (Mg/ha)</text>
<text transform="translate(149.9 183.8) rotate(-90)" text-anchor="middle" class="yl">Prediction error (Mg/ha)</text>
<text x="220" y="135.6" text-anchor="middle" class="tt">SGB</text>
<text x="142.7" y="141.2" class="lt"><tspan class="pp" dy="-0.6">(</tspan><tspan dy="0.6" dx="0.3">f</tspan><tspan class="pp" dy="-0.6" dx="0.4">)</tspan></text>
<line x1="306.72" y1="152.1" x2="306.72" y2="169.7" stroke="#a0a0a0" stroke-width="1.1"/>
<line x1="306.72" y1="183.2" x2="306.72" y2="191.4" stroke="#a0a0a0" stroke-width="1.1"/>
<line x1="305.07" y1="152.1" x2="308.37" y2="152.1" stroke="#505050" stroke-width="0.9"/>
<line x1="305.07" y1="191.4" x2="308.37" y2="191.4" stroke="#505050" stroke-width="0.9"/>
<rect x="303.72" y="169.7" width="6" height="13.5" fill="#fff" stroke="#979797" stroke-width="1.0"/>
<line x1="303.72" y1="176.1" x2="309.72" y2="176.1" stroke="#4a4a4a" stroke-width="0.8"/>
<line x1="320.16" y1="169.7" x2="320.16" y2="179.7" stroke="#a0a0a0" stroke-width="1.1"/>
<line x1="320.16" y1="187" x2="320.16" y2="194.3" stroke="#a0a0a0" stroke-width="1.1"/>
<line x1="318.51" y1="169.7" x2="321.81" y2="169.7" stroke="#505050" stroke-width="0.9"/>
<line x1="318.51" y1="194.3" x2="321.81" y2="194.3" stroke="#505050" stroke-width="0.9"/>
<rect x="317.16" y="179.7" width="6" height="7.3" fill="#fff" stroke="#979797" stroke-width="1.0"/>
<line x1="317.16" y1="184.3" x2="323.16" y2="184.3" stroke="#4a4a4a" stroke-width="0.8"/>
<line x1="333.59" y1="179.4" x2="333.59" y2="184.3" stroke="#a0a0a0" stroke-width="1.1"/>
<line x1="333.59" y1="188.2" x2="333.59" y2="193.4" stroke="#a0a0a0" stroke-width="1.1"/>
<line x1="331.94" y1="179.4" x2="335.24" y2="179.4" stroke="#505050" stroke-width="0.9"/>
<line x1="331.94" y1="193.4" x2="335.24" y2="193.4" stroke="#505050" stroke-width="0.9"/>
<rect x="330.59" y="184.3" width="6" height="3.9" fill="#fff" stroke="#979797" stroke-width="1.0"/>
<line x1="330.59" y1="186.5" x2="336.59" y2="186.5" stroke="#4a4a4a" stroke-width="0.8"/>
<line x1="347.03" y1="180.6" x2="347.03" y2="185.2" stroke="#a0a0a0" stroke-width="1.1"/>
<line x1="347.03" y1="189.3" x2="347.03" y2="194.6" stroke="#a0a0a0" stroke-width="1.1"/>
<line x1="345.38" y1="180.6" x2="348.68" y2="180.6" stroke="#505050" stroke-width="0.9"/>
<line x1="345.38" y1="194.6" x2="348.68" y2="194.6" stroke="#505050" stroke-width="0.9"/>
<rect x="344.03" y="185.2" width="6" height="4.1" fill="#fff" stroke="#979797" stroke-width="1.0"/>
<line x1="344.03" y1="187.5" x2="350.03" y2="187.5" stroke="#4a4a4a" stroke-width="0.8"/>
<line x1="360.47" y1="181.1" x2="360.47" y2="186.4" stroke="#a0a0a0" stroke-width="1.1"/>
<line x1="360.47" y1="190.5" x2="360.47" y2="195.8" stroke="#a0a0a0" stroke-width="1.1"/>
<line x1="358.82" y1="181.1" x2="362.12" y2="181.1" stroke="#505050" stroke-width="0.9"/>
<line x1="358.82" y1="195.8" x2="362.12" y2="195.8" stroke="#505050" stroke-width="0.9"/>
<rect x="357.47" y="186.4" width="6" height="4.1" fill="#fff" stroke="#979797" stroke-width="1.0"/>
<line x1="357.47" y1="188.7" x2="363.47" y2="188.7" stroke="#4a4a4a" stroke-width="0.8"/>
<line x1="373.91" y1="181.1" x2="373.91" y2="187.4" stroke="#a0a0a0" stroke-width="1.1"/>
<line x1="373.91" y1="191.7" x2="373.91" y2="197.5" stroke="#a0a0a0" stroke-width="1.1"/>
<line x1="372.26" y1="181.1" x2="375.56" y2="181.1" stroke="#505050" stroke-width="0.9"/>
<line x1="372.26" y1="197.5" x2="375.56" y2="197.5" stroke="#505050" stroke-width="0.9"/>
<rect x="370.91" y="187.4" width="6" height="4.3" fill="#fff" stroke="#979797" stroke-width="1.0"/>
<line x1="370.91" y1="189.5" x2="376.91" y2="189.5" stroke="#4a4a4a" stroke-width="0.8"/>
<line x1="387.34" y1="180.2" x2="387.34" y2="187.3" stroke="#a0a0a0" stroke-width="1.1"/>
<line x1="387.34" y1="192.2" x2="387.34" y2="199.1" stroke="#a0a0a0" stroke-width="1.1"/>
<line x1="385.69" y1="180.2" x2="388.99" y2="180.2" stroke="#505050" stroke-width="0.9"/>
<line x1="385.69" y1="199.1" x2="388.99" y2="199.1" stroke="#505050" stroke-width="0.9"/>
<rect x="384.34" y="187.3" width="6" height="4.9" fill="#fff" stroke="#979797" stroke-width="1.0"/>
<line x1="384.34" y1="190.5" x2="390.34" y2="190.5" stroke="#4a4a4a" stroke-width="0.8"/>
<line x1="400.78" y1="170.6" x2="400.78" y2="187.5" stroke="#a0a0a0" stroke-width="1.1"/>
<line x1="400.78" y1="199.4" x2="400.78" y2="216" stroke="#a0a0a0" stroke-width="1.1"/>
<line x1="399.13" y1="170.6" x2="402.43" y2="170.6" stroke="#505050" stroke-width="0.9"/>
<line x1="399.13" y1="216" x2="402.43" y2="216" stroke="#505050" stroke-width="0.9"/>
<rect x="397.78" y="187.5" width="6" height="11.9" fill="#fff" stroke="#979797" stroke-width="1.0"/>
<line x1="397.78" y1="192.9" x2="403.78" y2="192.9" stroke="#4a4a4a" stroke-width="0.8"/>
<line x1="300" y1="188.4" x2="407.5" y2="188.4" stroke="#ee5050" stroke-width="0.85" stroke-dasharray="1.1 0.8" class="rl"/>
<line x1="300" y1="188.4" x2="407.5" y2="188.4" stroke="#f48a8a" stroke-width="0.85" stroke-dasharray="0.8 1.1" stroke-dashoffset="-1.1" class="rl"/>
<ellipse cx="306.72" cy="175" rx="1.2" ry="1.3" fill="#0a7a0e"/>
<ellipse cx="320.16" cy="182.4" rx="1.2" ry="1.3" fill="#0a7a0e"/>
<ellipse cx="333.59" cy="185.8" rx="1.2" ry="1.3" fill="#0a7a0e"/>
<ellipse cx="347.03" cy="187" rx="1.2" ry="1.3" fill="#0a7a0e"/>
<ellipse cx="360.47" cy="188.2" rx="1.2" ry="1.3" fill="#0a7a0e"/>
<ellipse cx="373.91" cy="188.8" rx="1.2" ry="1.3" fill="#0a7a0e"/>
<ellipse cx="387.34" cy="189.6" rx="1.2" ry="1.3" fill="#0a7a0e"/>
<ellipse cx="400.78" cy="194.5" rx="1.2" ry="1.3" fill="#0a7a0e"/>
<rect x="300" y="139.5" width="107.5" height="89.3" fill="none" stroke="#888888" stroke-width="1.05"/>
<line x1="298.2" y1="139.5" x2="300" y2="139.5" stroke="#888888" stroke-width="0.8"/>
<text x="297.8" y="140.85" text-anchor="end" class="tk">300.00</text>
<line x1="298.2" y1="155.8" x2="300" y2="155.8" stroke="#888888" stroke-width="0.8"/>
<text x="297.8" y="157.15" text-anchor="end" class="tk">200.00</text>
<line x1="298.2" y1="172.1" x2="300" y2="172.1" stroke="#888888" stroke-width="0.8"/>
<text x="297.8" y="173.45" text-anchor="end" class="tk">100.00</text>
<line x1="298.2" y1="188.4" x2="300" y2="188.4" stroke="#888888" stroke-width="0.8"/>
<text x="297.8" y="189.75" text-anchor="end" class="tk">0.00</text>
<line x1="298.2" y1="204.7" x2="300" y2="204.7" stroke="#888888" stroke-width="0.8"/>
<text x="297.8" y="206.05" text-anchor="end" class="tk">-100.00</text>
<line x1="298.2" y1="221" x2="300" y2="221" stroke="#888888" stroke-width="0.8"/>
<text x="297.8" y="222.35" text-anchor="end" class="tk">-200.00</text>
<line x1="306.72" y1="228.8" x2="306.72" y2="230.6" stroke="#888888" stroke-width="0.8"/>
<text x="306.72" y="235.3" text-anchor="middle" class="tk">0-60</text>
<line x1="320.16" y1="228.8" x2="320.16" y2="230.6" stroke="#888888" stroke-width="0.8"/>
<text x="320.16" y="235.3" text-anchor="middle" class="tk">60-90</text>
<line x1="333.59" y1="228.8" x2="333.59" y2="230.6" stroke="#888888" stroke-width="0.8"/>
<text x="333.59" y="235.3" text-anchor="middle" class="tk">90-120</text>
<line x1="347.03" y1="228.8" x2="347.03" y2="230.6" stroke="#888888" stroke-width="0.8"/>
<text x="347.03" y="235.3" text-anchor="middle" class="tk">120-150</text>
<line x1="360.47" y1="228.8" x2="360.47" y2="230.6" stroke="#888888" stroke-width="0.8"/>
<text x="360.47" y="235.3" text-anchor="middle" class="tk">150-180</text>
<line x1="373.91" y1="228.8" x2="373.91" y2="230.6" stroke="#888888" stroke-width="0.8"/>
<text x="373.91" y="235.3" text-anchor="middle" class="tk">180-210</text>
<line x1="387.34" y1="228.8" x2="387.34" y2="230.6" stroke="#888888" stroke-width="0.8"/>
<text x="387.34" y="235.3" text-anchor="middle" class="tk">210-240</text>
<line x1="400.78" y1="228.8" x2="400.78" y2="230.6" stroke="#888888" stroke-width="0.8"/>
<text x="400.78" y="235.3" text-anchor="middle" class="tk">&gt; 240</text>
<text x="345.7" y="243.3" text-anchor="middle" class="xl">Reference biomass (Mg/ha)</text>
<text transform="translate(283.6 183.8) rotate(-90)" text-anchor="middle" class="yl">Prediction error (Mg/ha)</text>
<text x="353" y="135.6" text-anchor="middle" class="tt">CatBoost</text>
<text x="276.4" y="141.2" class="lt"><tspan class="pp" dy="-0.6">(</tspan><tspan dy="0.6" dx="0.3">g</tspan><tspan class="pp" dy="-0.6" dx="0.4">)</tspan></text>
<line x1="440.42" y1="148" x2="440.42" y2="168.3" stroke="#a0a0a0" stroke-width="1.1"/>
<line x1="440.42" y1="182.4" x2="440.42" y2="190.2" stroke="#a0a0a0" stroke-width="1.1"/>
<line x1="438.77" y1="148" x2="442.07" y2="148" stroke="#505050" stroke-width="0.9"/>
<line x1="438.77" y1="190.2" x2="442.07" y2="190.2" stroke="#505050" stroke-width="0.9"/>
<rect x="437.42" y="168.3" width="6" height="14.1" fill="#fff" stroke="#979797" stroke-width="1.0"/>
<line x1="437.42" y1="174.1" x2="443.42" y2="174.1" stroke="#4a4a4a" stroke-width="0.8"/>
<line x1="453.86" y1="168.3" x2="453.86" y2="178.8" stroke="#a0a0a0" stroke-width="1.1"/>
<line x1="453.86" y1="186.3" x2="453.86" y2="192.9" stroke="#a0a0a0" stroke-width="1.1"/>
<line x1="452.21" y1="168.3" x2="455.51" y2="168.3" stroke="#505050" stroke-width="0.9"/>
<line x1="452.21" y1="192.9" x2="455.51" y2="192.9" stroke="#505050" stroke-width="0.9"/>
<rect x="450.86" y="178.8" width="6" height="7.5" fill="#fff" stroke="#979797" stroke-width="1.0"/>
<line x1="450.86" y1="183.5" x2="456.86" y2="183.5" stroke="#4a4a4a" stroke-width="0.8"/>
<line x1="467.29" y1="178.2" x2="467.29" y2="183.1" stroke="#a0a0a0" stroke-width="1.1"/>
<line x1="467.29" y1="188.2" x2="467.29" y2="193.4" stroke="#a0a0a0" stroke-width="1.1"/>
<line x1="465.64" y1="178.2" x2="468.94" y2="178.2" stroke="#505050" stroke-width="0.9"/>
<line x1="465.64" y1="193.4" x2="468.94" y2="193.4" stroke="#505050" stroke-width="0.9"/>
<rect x="464.29" y="183.1" width="6" height="5.1" fill="#fff" stroke="#979797" stroke-width="1.0"/>
<line x1="464.29" y1="185.6" x2="470.29" y2="185.6" stroke="#4a4a4a" stroke-width="0.8"/>
<line x1="480.73" y1="178.8" x2="480.73" y2="185" stroke="#a0a0a0" stroke-width="1.1"/>
<line x1="480.73" y1="189.3" x2="480.73" y2="195.6" stroke="#a0a0a0" stroke-width="1.1"/>
<line x1="479.08" y1="178.8" x2="482.38" y2="178.8" stroke="#505050" stroke-width="0.9"/>
<line x1="479.08" y1="195.6" x2="482.38" y2="195.6" stroke="#505050" stroke-width="0.9"/>
<rect x="477.73" y="185" width="6" height="4.3" fill="#fff" stroke="#979797" stroke-width="1.0"/>
<line x1="477.73" y1="187.5" x2="483.73" y2="187.5" stroke="#4a4a4a" stroke-width="0.8"/>
<line x1="494.17" y1="179.4" x2="494.17" y2="186.1" stroke="#a0a0a0" stroke-width="1.1"/>
<line x1="494.17" y1="191.1" x2="494.17" y2="197.5" stroke="#a0a0a0" stroke-width="1.1"/>
<line x1="492.52" y1="179.4" x2="495.82" y2="179.4" stroke="#505050" stroke-width="0.9"/>
<line x1="492.52" y1="197.5" x2="495.82" y2="197.5" stroke="#505050" stroke-width="0.9"/>
<rect x="491.17" y="186.1" width="6" height="5" fill="#fff" stroke="#979797" stroke-width="1.0"/>
<line x1="491.17" y1="188.5" x2="497.17" y2="188.5" stroke="#4a4a4a" stroke-width="0.8"/>
<line x1="507.61" y1="179.4" x2="507.61" y2="186.6" stroke="#a0a0a0" stroke-width="1.1"/>
<line x1="507.61" y1="192.3" x2="507.61" y2="199.3" stroke="#a0a0a0" stroke-width="1.1"/>
<line x1="505.96" y1="179.4" x2="509.26" y2="179.4" stroke="#505050" stroke-width="0.9"/>
<line x1="505.96" y1="199.3" x2="509.26" y2="199.3" stroke="#505050" stroke-width="0.9"/>
<rect x="504.61" y="186.6" width="6" height="5.7" fill="#fff" stroke="#979797" stroke-width="1.0"/>
<line x1="504.61" y1="189.5" x2="510.61" y2="189.5" stroke="#4a4a4a" stroke-width="0.8"/>
<line x1="521.04" y1="178.8" x2="521.04" y2="187.6" stroke="#a0a0a0" stroke-width="1.1"/>
<line x1="521.04" y1="193.4" x2="521.04" y2="202.8" stroke="#a0a0a0" stroke-width="1.1"/>
<line x1="519.39" y1="178.8" x2="522.69" y2="178.8" stroke="#505050" stroke-width="0.9"/>
<line x1="519.39" y1="202.8" x2="522.69" y2="202.8" stroke="#505050" stroke-width="0.9"/>
<rect x="518.04" y="187.6" width="6" height="5.8" fill="#fff" stroke="#979797" stroke-width="1.0"/>
<line x1="518.04" y1="191.4" x2="524.04" y2="191.4" stroke="#4a4a4a" stroke-width="0.8"/>
<line x1="534.48" y1="167.6" x2="534.48" y2="188.5" stroke="#a0a0a0" stroke-width="1.1"/>
<line x1="534.48" y1="201.4" x2="534.48" y2="222" stroke="#a0a0a0" stroke-width="1.1"/>
<line x1="532.83" y1="167.6" x2="536.13" y2="167.6" stroke="#505050" stroke-width="0.9"/>
<line x1="532.83" y1="222" x2="536.13" y2="222" stroke="#505050" stroke-width="0.9"/>
<rect x="531.48" y="188.5" width="6" height="12.9" fill="#fff" stroke="#979797" stroke-width="1.0"/>
<line x1="531.48" y1="193.8" x2="537.48" y2="193.8" stroke="#4a4a4a" stroke-width="0.8"/>
<line x1="433.7" y1="188.4" x2="541.2" y2="188.4" stroke="#ee5050" stroke-width="0.85" stroke-dasharray="1.1 0.8" class="rl"/>
<line x1="433.7" y1="188.4" x2="541.2" y2="188.4" stroke="#f48a8a" stroke-width="0.85" stroke-dasharray="0.8 1.1" stroke-dashoffset="-1.1" class="rl"/>
<ellipse cx="440.42" cy="173.8" rx="1.2" ry="1.3" fill="#0a7a0e"/>
<ellipse cx="453.86" cy="181.2" rx="1.2" ry="1.3" fill="#0a7a0e"/>
<ellipse cx="467.29" cy="185" rx="1.2" ry="1.3" fill="#0a7a0e"/>
<ellipse cx="480.73" cy="187" rx="1.2" ry="1.3" fill="#0a7a0e"/>
<ellipse cx="494.17" cy="188.2" rx="1.2" ry="1.3" fill="#0a7a0e"/>
<ellipse cx="507.61" cy="188.8" rx="1.2" ry="1.3" fill="#0a7a0e"/>
<ellipse cx="521.04" cy="189.9" rx="1.2" ry="1.3" fill="#0a7a0e"/>
<ellipse cx="534.48" cy="195.8" rx="1.2" ry="1.3" fill="#0a7a0e"/>
<rect x="433.7" y="139.5" width="107.5" height="89.3" fill="none" stroke="#888888" stroke-width="1.05"/>
<line x1="431.9" y1="139.5" x2="433.7" y2="139.5" stroke="#888888" stroke-width="0.8"/>
<text x="431.5" y="140.85" text-anchor="end" class="tk">300.00</text>
<line x1="431.9" y1="155.8" x2="433.7" y2="155.8" stroke="#888888" stroke-width="0.8"/>
<text x="431.5" y="157.15" text-anchor="end" class="tk">200.00</text>
<line x1="431.9" y1="172.1" x2="433.7" y2="172.1" stroke="#888888" stroke-width="0.8"/>
<text x="431.5" y="173.45" text-anchor="end" class="tk">100.00</text>
<line x1="431.9" y1="188.4" x2="433.7" y2="188.4" stroke="#888888" stroke-width="0.8"/>
<text x="431.5" y="189.75" text-anchor="end" class="tk">0.00</text>
<line x1="431.9" y1="204.7" x2="433.7" y2="204.7" stroke="#888888" stroke-width="0.8"/>
<text x="431.5" y="206.05" text-anchor="end" class="tk">-100.00</text>
<line x1="431.9" y1="221" x2="433.7" y2="221" stroke="#888888" stroke-width="0.8"/>
<text x="431.5" y="222.35" text-anchor="end" class="tk">-200.00</text>
<line x1="440.42" y1="228.8" x2="440.42" y2="230.6" stroke="#888888" stroke-width="0.8"/>
<text x="440.42" y="235.3" text-anchor="middle" class="tk">0-60</text>
<line x1="453.86" y1="228.8" x2="453.86" y2="230.6" stroke="#888888" stroke-width="0.8"/>
<text x="453.86" y="235.3" text-anchor="middle" class="tk">60-90</text>
<line x1="467.29" y1="228.8" x2="467.29" y2="230.6" stroke="#888888" stroke-width="0.8"/>
<text x="467.29" y="235.3" text-anchor="middle" class="tk">90-120</text>
<line x1="480.73" y1="228.8" x2="480.73" y2="230.6" stroke="#888888" stroke-width="0.8"/>
<text x="480.73" y="235.3" text-anchor="middle" class="tk">120-150</text>
<line x1="494.17" y1="228.8" x2="494.17" y2="230.6" stroke="#888888" stroke-width="0.8"/>
<text x="494.17" y="235.3" text-anchor="middle" class="tk">150-180</text>
<line x1="507.61" y1="228.8" x2="507.61" y2="230.6" stroke="#888888" stroke-width="0.8"/>
<text x="507.61" y="235.3" text-anchor="middle" class="tk">180-210</text>
<line x1="521.04" y1="228.8" x2="521.04" y2="230.6" stroke="#888888" stroke-width="0.8"/>
<text x="521.04" y="235.3" text-anchor="middle" class="tk">210-240</text>
<line x1="534.48" y1="228.8" x2="534.48" y2="230.6" stroke="#888888" stroke-width="0.8"/>
<text x="534.48" y="235.3" text-anchor="middle" class="tk">&gt; 240</text>
<text x="479.5" y="243.3" text-anchor="middle" class="xl">Reference biomass (Mg/ha)</text>
<text transform="translate(417.3 183.8) rotate(-90)" text-anchor="middle" class="yl">Prediction error (Mg/ha)</text>
<text x="489.4" y="135.6" text-anchor="middle" class="tt">MLP</text>
<text x="410.1" y="141.2" class="lt"><tspan class="pp" dy="-0.6">(</tspan><tspan dy="0.6" dx="0.3">h</tspan><tspan class="pp" dy="-0.6" dx="0.4">)</tspan></text>
</svg>
</body></html>
